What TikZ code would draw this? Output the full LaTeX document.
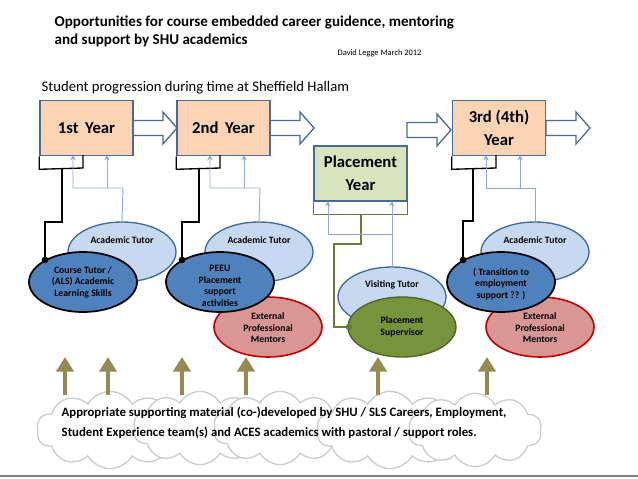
\documentclass[tikz,border=0pt]{standalone}
\usepackage{fontspec}
\setmainfont{Carlito}
\usetikzlibrary{shapes.geometric,shapes.symbols,arrows.meta,calc}
\definecolor{peach}{HTML}{FBD4B4}
\definecolor{boxb}{HTML}{4A6B9A}
\definecolor{pgreen}{HTML}{D7E4BD}
\definecolor{ltblue}{HTML}{C6D9F1}
\definecolor{ltblueb}{HTML}{3F6AA0}
\definecolor{dkblue}{HTML}{4F81BD}
\definecolor{pred}{HTML}{D99694}
\definecolor{predb}{HTML}{C00000}
\definecolor{olive}{HTML}{77933C}
\definecolor{oliveb}{HTML}{4F6228}
\definecolor{oline}{HTML}{6B7A3A}
\definecolor{tan}{HTML}{948A54}
\definecolor{thinb}{HTML}{8EAADB}
\begin{document}
\begin{tikzpicture}[x=0.75pt,y=-0.75pt,
  yearbox/.style={rectangle,draw=boxb,line width=1.2pt,fill=peach,minimum width=69.75pt,minimum height=41.25pt,align=center,font=\fontsize{12.5}{15}\selectfont\bfseries},
  ell/.style={ellipse,minimum width=81pt,minimum height=45pt,line width=1pt},
  tutor/.style={ell,fill=ltblue,draw=ltblueb},
  key/.style={ell,fill=dkblue,draw=black,line width=1.3pt},
  mentor/.style={ell,fill=pred,draw=predb,line width=1.2pt},
  etext/.style={font=\fontsize{7.3}{8.6}\selectfont\bfseries,align=center},
  blk/.style={draw=boxb,line width=1pt,fill=white},
  brk/.style={draw=black,line width=1pt},
  thin/.style={draw=thinb,line width=0.7pt},
  thinarr/.style={thin,-{Stealth[length=4pt,width=4pt]}},
  dot/.style={circle,fill=black,inner sep=0pt,minimum size=5pt},
  uparr/.style={draw=tan,line width=2.5pt,-{Triangle[length=11pt,width=13pt]}},
  cloudn/.style={cloud,cloud puffs=10,cloud puff arc=120,aspect=2,draw=gray!40,line width=1pt,fill=white,inner sep=0pt}]
\useasboundingbox (0,0) rectangle (638,478);
% titles
\node[anchor=west,font=\fontsize{11.3}{13}\selectfont\bfseries] (t1) at (50,22) {Opportunities for course embedded career guidence, mentoring};
\node[anchor=west,font=\fontsize{11.3}{13}\selectfont\bfseries] (t2) at (50,40) {and support by SHU academics};
\node[anchor=west,font=\fontsize{6.3}{7}\selectfont] (t3) at (333,53) {David Legge March 2012};
\node[anchor=west,font=\fontsize{11}{13}\selectfont] (t4) at (37,88) {Student progression during time at Sheffield Hallam};
\draw[gray,line width=1pt] (0,476) coordinate (l1) -- (638,476) coordinate (l2);
% block arrows
\foreach \x/\y in {133/128,270/128,407/130,546/128}{
  \draw[blk] (\x,\y-7.5) -- (\x+30,\y-7.5) -- (\x+30,\y-16) -- (\x+44,\y) -- (\x+30,\y+16) -- (\x+30,\y+7.5) -- (\x,\y+7.5) -- cycle;}
% boxes
\node[yearbox] (b1) at (86.5,128) {1st\, Year};
\node[yearbox] (b2) at (223.5,128) {2nd\, Year};
\node[yearbox,fill=pgreen,font=\fontsize{12.5}{17}\selectfont\bfseries] (bp) at (360.5,173.5) {Placement\\Year};
\node[yearbox,font=\fontsize{12.5}{17}\selectfont\bfseries] (b3) at (499,128) {3rd (4th)\\Year};
% ellipses
\node[tutor] (at1) at (122,252) {};
\node[etext] (at1t) at (122,240) {Academic Tutor};
\node[tutor] (at2) at (259,252) {};
\node[etext] (at2t) at (259,240) {Academic Tutor};
\node[tutor] (vt) at (392,297) {};
\node[etext] (vtt) at (392,285) {Visiting Tutor};
\node[tutor] (at3) at (535,252) {};
\node[etext] (at3t) at (535,240) {Academic Tutor};
\node[mentor] (em2) at (268,327) {};
\node[etext] (em2t) at (268,328) {External\\Professional\\Mentors};
\node[mentor] (em3) at (540,327) {};
\node[etext] (em3t) at (540,328) {External\\Professional\\Mentors};
\node[key] (ct) at (83,282) {};
\node[etext] (ctt) at (83,282) {Course Tutor /\\(ALS) Academic\\Learning Skills};
\node[key] (pe) at (220,282) {};
\node[etext] (pet) at (220,286) {PEEU\\Placement\\support\\activities};
\node[key] (tr) at (501,282) {};
\node[etext] (trt) at (501,284) {( Transition to\\employment\\support ?? )};
\node[ell,fill=olive,draw=oliveb] (ps) at (402,327) {};
\node[etext] (pst) at (402,327) {Placement\\Supervisor};
% brackets and connectors
\node[dot] (d1) at (45,260) {};
\node[dot] (d2) at (182,260) {};
\node[dot] (d3) at (463,260) {};
\node[dot,fill=oline] (dp) at (349,327) {};
\draw[brk] (b1.south west) -- ++(0,13) -- (83,168) -- (83,155);
\draw[brk] (62,168) -- (62,222) -- (45,222) -- (d1.center);
\draw[brk] (b2.south west) -- ++(0,13) -- (220,168) -- (220,155);
\draw[brk] (199,168) -- (199,222) -- (182,222) -- (d2.center);
\draw[brk] (b3.south west) -- ++(0,13) -- (496,168) -- (496,155);
\draw[brk] (473,168) -- (473,221) -- (463,221) -- (d3.center);
\draw[brk,draw=oline] (bp.south west) -- ++(0,13) -- ($(bp.south east)+(0,13)$) -- (bp.south east);
\draw[brk,draw=oline] (361,214) -- (361,244) -- (334,244) -- (334,327) -- (dp.center);
% thin blue arrows
\draw[thinarr] (at1.north) -- (123,188) -- (73,188) -- (73,155);
\draw[thinarr] (107,188) -- (107,155);
\draw[thinarr] (at2.north) -- (260,188) -- (210,188) -- (210,155);
\draw[thinarr] (244,188) -- (244,155);
\draw[thinarr] (vt.north) -- (392,234) -- (328,234) -- (328,201);
\draw[thinarr] (392,234) -- (392,201);
\draw[thinarr] (at3.north) -- (535,188) -- (486,188) -- (486,155);
\draw[thinarr] (520,188) -- (520,155);
% clouds
\node[cloudn,minimum width=110pt,minimum height=58pt] (c1) at (110,430) {};
\node[cloudn,minimum width=100pt,minimum height=55pt] (c2) at (200,428) {};
\node[cloudn,minimum width=100pt,minimum height=55pt] (c5) at (280,428) {};
\node[cloudn,minimum width=110pt,minimum height=58pt] (c3) at (390,430) {};
\node[cloudn,minimum width=100pt,minimum height=55pt] (c4) at (475,430) {};
\node[anchor=west,font=\fontsize{9.6}{15}\selectfont\bfseries,align=left] (ct2) at (57,423) {Appropriate supporting material (co-)developed by SHU / SLS Careers, Employment,\\Student Experience team(s) and ACES academics with pastoral / support roles.};
% olive arrows
\foreach \x [count=\i] in {65,108,182,246,378,487}{
  \coordinate (ua\i) at (\x,395);
  \coordinate (ub\i) at (\x,357);
  \draw[uparr] (ua\i) -- (ub\i);}
\end{tikzpicture}
\end{document}
